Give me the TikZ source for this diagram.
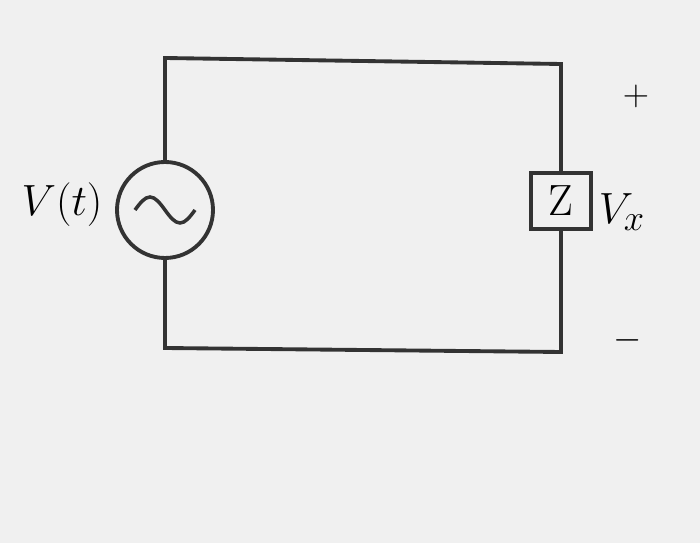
\documentclass[tikz,border=0pt]{standalone}
\usetikzlibrary{positioning}
\begin{document}
\begin{tikzpicture}[x=0.02cm,y=-0.02cm,wire/.style={line width=2.2pt, draw=black!80}]
\fill[black!6] (0,0) rectangle (700,543);
\useasboundingbox (0,0) rectangle (700,543);
\node [circle,draw=black!80,line width=2.2pt,minimum size=96*0.02cm] (src) at (165,210) {};
\draw [line width=2pt, black!80] ([xshift=-30*0.02cm]src.center) sin ++(15,-13) cos ++(15,13) sin ++(15,13) cos ++(15,-13);
\node [draw=black!80,line width=2.2pt,minimum width=60*0.02cm,minimum height=56*0.02cm,font=\Huge] (z) at (561,201) {Z};
\coordinate (tl) at (165,58);
\coordinate (tr) at (561,64);
\coordinate (bl) at (165,348);
\coordinate (br) at (561,352);
\draw [wire] (src.north) -- (tl) -- (tr) -- (z.north);
\draw [wire] (src.south) -- (bl) -- (br) -- (z.south);
\node [font=\Huge] (vt) at (62,205) {$V(t)$};
\node [font=\huge] (plus) at (636,96) {$+$};
\node [font=\Huge] (vx) at (622,212) {$V_x$};
\node [font=\huge] (minus) at (628,340) {$-$};
\end{tikzpicture}
\end{document}
